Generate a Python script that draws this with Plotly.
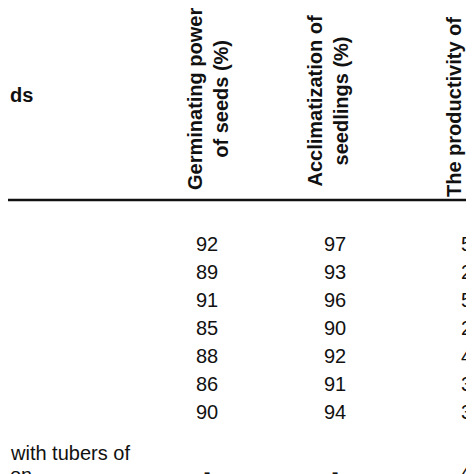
import plotly.graph_objects as go

germ = ["92", "89", "91", "85", "88", "86", "90", "-"]
accl = ["97", "93", "96", "90", "92", "91", "94", "-"]
prod = ["52", "21", "58", "28", "45", "32", "38", "46"]
headers = ["Germinating power<br>of seeds (%)", "Acclimatization of<br>seedlings (%)", "The productivity of<br>plants g/bush"]

row_y = [238, 266, 294, 322, 350, 378, 406, 466]
col_x = [199, 327]
F = "Liberation Sans, Arial, sans-serif"
FS = 20

fig = go.Figure()
for cx, vals in zip(col_x, [germ, accl]):
    fig.add_trace(go.Scatter(x=[cx]*len(vals), y=row_y, text=vals, mode="text",
                             textposition="middle center", cliponaxis=False,
                             textfont=dict(family=F, size=FS, color="#111")))
fig.add_trace(go.Scatter(x=[453]*len(prod), y=row_y, text=prod, mode="text",
                         textposition="middle right", cliponaxis=False,
                         textfont=dict(family=F, size=FS, color="#111")))

anns = [dict(x=0, y=87, text="<b>ds</b>", xanchor="left", yanchor="middle", font=dict(size=FS)),
        dict(x=0, y=445, text="with tubers of", xanchor="left", yanchor="middle", font=dict(size=FS)),
        dict(x=0, y=467, text="on", xanchor="left", yanchor="middle", font=dict(size=FS))]
for hx, h, by in zip([200, 319, 459], headers, [184, 181, 191]):
    anns.append(dict(x=hx, y=by, text="<b>"+h+"</b>", textangle=-90, xanchor="center",
                     yanchor="bottom", font=dict(size=FS), showarrow=False))
for a in anns:
    a.setdefault("showarrow", False)
    a["xref"] = "x"; a["yref"] = "y"
    a["font"]["family"] = F
    a["font"]["color"] = "#111"

fig.update_layout(
    width=474, height=474, margin=dict(l=0, r=0, t=0, b=0),
    paper_bgcolor="white", plot_bgcolor="white", showlegend=False,
    xaxis=dict(range=[0, 474], visible=False, fixedrange=True),
    yaxis=dict(range=[474, 0], visible=False, fixedrange=True),
    annotations=anns,
    shapes=[dict(type="line", xref="x", yref="y", x0=0, x1=474, y0=192, y1=192,
                 line=dict(color="#111", width=2.5))],
)
fig.write_html("out.html")
